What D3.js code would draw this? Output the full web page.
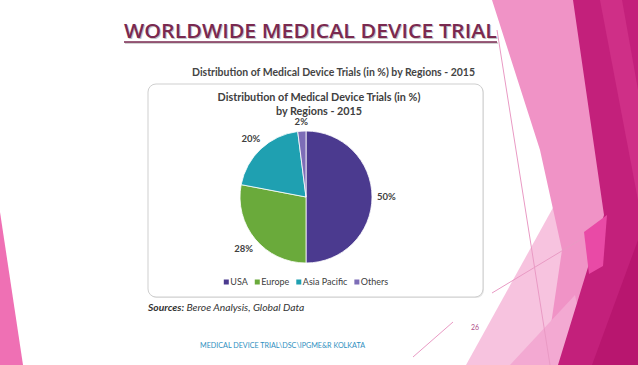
<!DOCTYPE html>
<html>
<head>
<meta charset="utf-8">
<script src="https://cdn.jsdelivr.net/npm/d3@7"></script>
<style>
  html, body { margin: 0; padding: 0; background: #fff; }
  svg { display: block; }
</style>
</head>
<body>
<div id="container"></div>
<script>
// data
const regions = ["USA", "Europe", "Asia Pacific", "Others"];
const shares = [50, 28, 20, 2];
const sliceColors = ["#4b3a8f", "#6aaa3b", "#1fa0b1", "#7d6db7"];

const width = 638, height = 365;

const svg = d3.select("#container").append("svg")
  .attr("width", width)
  .attr("height", height);

// slide decoration (background shapes)
const decor = [
  {fill: "#f7c3df", pts: [[466,365],[560,195],[638,115],[638,365]]},
  {fill: "#f093c6", pts: [[492,0],[600,0],[612,365],[545,365],[562,250],[540,150]]},
  {fill: "#f3a9d2", pts: [[510,365],[575,295],[590,365]]},
  {fill: "#c3207b", pts: [[573,0],[638,0],[638,365],[558,365],[604,215]]},
  {fill: "#cf2f87", pts: [[600,0],[622,0],[638,90],[638,200]]},
  {fill: "#e94aa6", pts: [[584,232],[607,215],[603,266],[589,274]]},
  {fill: "#b8166f", pts: [[592,365],[638,240],[638,365]]},
  {fill: "#ef70b4", pts: [[0,212],[23,365],[0,365]]}
];
svg.selectAll("polygon.decor")
  .data(decor)
  .enter().append("polygon")
    .attr("class", "decor")
    .attr("points", d => d.pts.map(p => p.join(",")).join(" "))
    .attr("fill", d => d.fill);

const thinLines = [[497,30,550,365],[492,293,580,240],[413,357,453,322]];
svg.selectAll("line.thin")
  .data(thinLines)
  .enter().append("line")
    .attr("class", "thin")
    .attr("x1", d => d[0]).attr("y1", d => d[1])
    .attr("x2", d => d[2]).attr("y2", d => d[3])
    .attr("stroke", "#e99ac4")
    .attr("stroke-width", 1);

// slide title
const titleFont = "'Open Sans', 'DejaVu Sans', sans-serif";
[["#c4c4c4", 1], ["#7a2950", 0]].forEach(([fill, off]) => {
  svg.append("text")
    .attr("x", 124 + off).attr("y", 38 + off)
    .attr("textLength", 373).attr("lengthAdjust", "spacingAndGlyphs")
    .style("font-family", titleFont).style("font-size", "20px").style("font-weight", 600)
    .attr("fill", fill)
    .text("WORLDWIDE MEDICAL DEVICE TRIAL");
  svg.append("line")
    .attr("x1", 124 + off).attr("x2", 497 + off).attr("y1", 42 + off).attr("y2", 42 + off)
    .attr("stroke", fill).attr("stroke-width", 1.4);
});

const font = "Lato, 'Open Sans', sans-serif";

// image caption
svg.append("text")
  .attr("x", 192).attr("y", 76)
  .attr("textLength", 283).attr("lengthAdjust", "spacingAndGlyphs")
  .style("font-family", font).style("font-size", "10.5px").style("font-weight", "bold")
  .attr("fill", "#444")
  .text("Distribution of Medical Device Trials (in %) by Regions - 2015");

// chart box
svg.append("rect")
  .attr("x", 149).attr("y", 85).attr("width", 335).attr("height", 213)
  .attr("rx", 8).attr("fill", "#e6e6e6");
svg.append("rect")
  .attr("x", 148).attr("y", 84).attr("width", 335).attr("height", 213)
  .attr("rx", 8).attr("fill", "#fff").attr("stroke", "#cfcfcf").attr("stroke-width", 1);

// chart title
const chartTitle = ["Distribution of Medical Device Trials (in %)", "by Regions - 2015"];
svg.selectAll("text.ctitle")
  .data(chartTitle)
  .enter().append("text")
    .attr("class", "ctitle")
    .attr("x", 319)
    .attr("y", (d, i) => 101 + i * 14)
    .attr("text-anchor", "middle")
    .style("font-family", font).style("font-size", "10.8px").style("font-weight", "bold")
    .attr("fill", "#404040")
    .text(d => d);

// pie
const cx = 306, cy = 197, radius = 66;
const pie = d3.pie().sort(null).value(d => d);
const arcs = pie(shares);
const arcGen = d3.arc().innerRadius(0).outerRadius(radius);
const color = d3.scaleOrdinal().domain(regions).range(sliceColors);

const g = svg.append("g").attr("transform", `translate(${cx},${cy})`);
g.selectAll("path")
  .data(arcs)
  .enter().append("path")
    .attr("d", arcGen)
    .attr("fill", (d, i) => color(regions[i]))
    .attr("stroke", "#fff")
    .attr("stroke-width", 0.8);

// outside-end labels: push the label box just clear of the rim
const pct = g.selectAll("text.pct")
  .data(arcs)
  .enter().append("text")
    .attr("class", "pct")
    .attr("text-anchor", "middle")
    .attr("dy", "0.35em")
    .style("font-family", font).style("font-size", "9.5px").style("font-weight", "bold")
    .attr("fill", "#404040")
    .text(d => d.data + "%");
pct.attr("transform", function(d) {
  const a = (d.startAngle + d.endAngle) / 2;
  const sx = Math.sin(a), sy = -Math.cos(a);
  const hw = this.getComputedTextLength() / 2, hh = 4;
  const r = radius + 5 + Math.abs(sx) * hw + Math.abs(sy) * hh;
  return `translate(${sx * r},${sy * r})`;
});

// legend
const legend = svg.append("g").attr("transform", "translate(0,282)");
const items = legend.selectAll("g")
  .data(regions)
  .enter().append("g");
items.append("rect")
  .attr("width", 5).attr("height", 5).attr("y", -2.5)
  .attr("fill", d => color(d));
items.append("text")
  .attr("x", 6.5).attr("dy", "0.35em")
  .style("font-family", font).style("font-size", "9px")
  .attr("fill", "#404040")
  .text(d => d);
let xPos = 0;
const gap = 7;
const offsets = [];
items.each(function() {
  offsets.push(xPos);
  xPos += 6.5 + d3.select(this).select("text").node().getComputedTextLength() + gap;
});
const total = xPos - gap;
items.attr("transform", (d, i) => `translate(${306 - total / 2 + offsets[i]},0)`);

// source note
const src = svg.append("text")
  .attr("x", 148).attr("y", 311)
  .style("font-family", font).style("font-size", "10.3px").style("font-style", "italic")
  .attr("fill", "#333");
src.append("tspan").style("font-weight", "bold").text("Sources: ");
src.append("tspan").text("Beroe Analysis, Global Data");

// footer
svg.append("text")
  .attr("x", 475).attr("y", 330)
  .attr("text-anchor", "middle")
  .style("font-family", font).style("font-size", "7px")
  .attr("fill", "#b0508a")
  .text("26");
svg.append("text")
  .attr("x", 200).attr("y", 348)
  .attr("textLength", 165).attr("lengthAdjust", "spacingAndGlyphs")
  .style("font-family", font).style("font-size", "7.5px")
  .attr("fill", "#2e8fc0")
  .text("MEDICAL DEVICE TRIAL\\DSC\\IPGME&R KOLKATA");
</script>
</body>
</html>
